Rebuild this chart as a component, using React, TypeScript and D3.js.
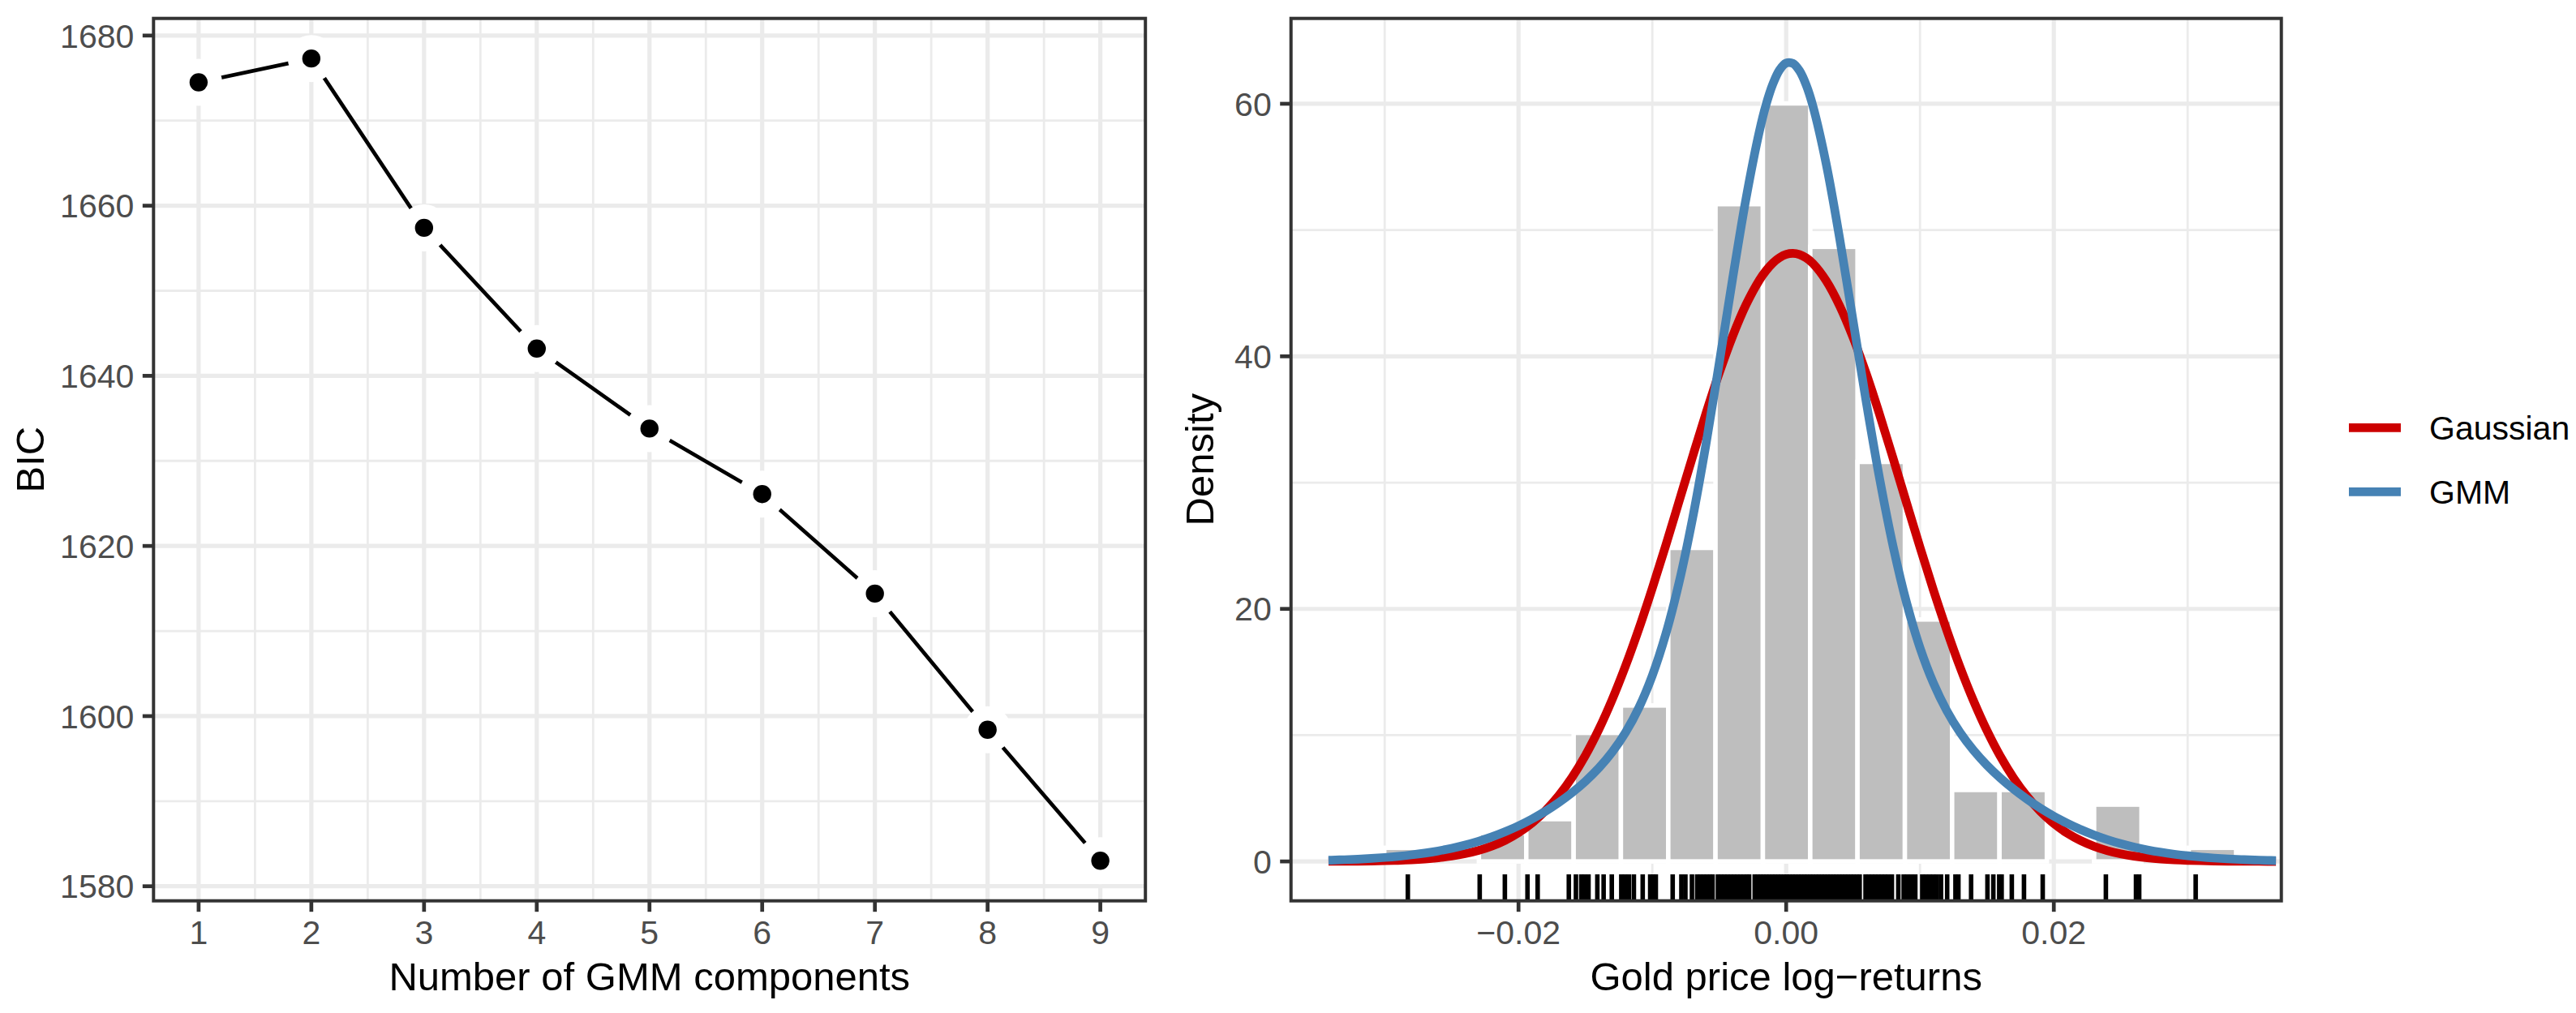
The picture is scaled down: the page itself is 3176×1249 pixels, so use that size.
import React from "react";
import * as d3 from "d3";

// ---------- Left panel data: BIC vs number of GMM components ----------
const components = [1, 2, 3, 4, 5, 6, 7, 8, 9];
const bicValues = [1674.5, 1677.3, 1657.4, 1643.2, 1633.8, 1626.1, 1614.4, 1598.4, 1583.0];
const bicYTicks = [1580, 1600, 1620, 1640, 1660, 1680];
const bicYMinor = [1590, 1610, 1630, 1650, 1670];
const bicXMinor = [1.5, 2.5, 3.5, 4.5, 5.5, 6.5, 7.5, 8.5];

// ---------- Right panel data: histogram of gold log-returns ----------
const binEdges = [
  -0.03003, -0.0265, -0.02296, -0.01942, -0.01588, -0.01235, -0.00881, -0.00528, -0.00174,
  0.0018, 0.00533, 0.00887, 0.0124, 0.01594, 0.01948, 0.02301, 0.02655, 0.03008, 0.03362,
];
const binDensity = [
  1.08, 0, 2.25, 3.35, 10.18, 12.35, 24.83, 52.05, 60.03, 48.67, 31.64, 19.16, 5.66, 5.66, 0,
  4.5, 0, 1.08,
];

const rugValues = [
  -0.02827, -0.0229, -0.02102, -0.01933, -0.01857, -0.01624, -0.01571, -0.01531, -0.01507,
  -0.01477, -0.01411, -0.01364, -0.01303, -0.01232, -0.01205, -0.01175, -0.01138, -0.01072,
  -0.01016, -0.00992, -0.00974, -0.00848, -0.00783, -0.00753, -0.00704, -0.00665, -0.00641,
  -0.00616, -0.00592, -0.00568, -0.0055, -0.0051, -0.00486, -0.00462, -0.00438, -0.00413,
  -0.00389, -0.00365, -0.00341, -0.00316, -0.00292, -0.00277, -0.00235, -0.00214, -0.0019,
  -0.0017, -0.00147, -0.00127, -0.00103, -0.00083, -0.0006, -0.0004, -0.00016, 0.00006,
  0.00026, 0.00049, 0.00069, 0.00093, 0.00113, 0.00137, 0.00156, 0.0018, 0.002, 0.00224,
  0.00243, 0.00267, 0.00287, 0.00311, 0.00331, 0.00354, 0.00374, 0.00398, 0.00418, 0.00441,
  0.00461, 0.00485, 0.00505, 0.00529, 0.00549, 0.00593, 0.00617, 0.00641, 0.00665, 0.0069,
  0.00714, 0.00738, 0.00762, 0.0079, 0.00838, 0.00878, 0.00905, 0.00935, 0.00965, 0.01017,
  0.01044, 0.01072, 0.01099, 0.01126, 0.01157, 0.01203, 0.01265, 0.01287, 0.01382, 0.01504,
  0.01548, 0.01592, 0.0161, 0.01686, 0.01777, 0.01917, 0.02389, 0.02614, 0.02638, 0.0306,
];

// density curves sampled along the x axis
const curveX = [
  -0.0342, -0.034, -0.033, -0.032, -0.031, -0.03, -0.029, -0.028, -0.027, -0.026, -0.025,
  -0.024, -0.023, -0.022, -0.021, -0.02, -0.019, -0.018, -0.017, -0.016, -0.015, -0.014,
  -0.013, -0.012, -0.011, -0.01, -0.009, -0.008, -0.007, -0.006, -0.005, -0.004, -0.003,
  -0.002, -0.0015, -0.001, -0.0005, 0, 0.0005, 0.001, 0.0015, 0.002, 0.003, 0.004, 0.005,
  0.006, 0.007, 0.008, 0.009, 0.01, 0.011, 0.012, 0.013, 0.014, 0.015, 0.016, 0.017, 0.018,
  0.019, 0.02, 0.021, 0.022, 0.023, 0.024, 0.025, 0.026, 0.027, 0.028, 0.029, 0.03, 0.031,
  0.032, 0.033, 0.034, 0.035, 0.036, 0.0366,
];
const gaussianY = [
  0.0075, 0.0083, 0.0137, 0.0221, 0.0353, 0.0555, 0.0858, 0.131, 0.197, 0.292, 0.426, 0.612,
  0.868, 1.213, 1.671, 2.268, 3.034, 4.0, 5.2, 6.66, 8.4, 10.45, 12.82, 15.49, 18.44, 21.64,
  25.02, 28.52, 32.03, 35.46, 38.69, 41.6, 44.09, 46.04, 46.79, 47.39, 47.81, 48.07, 48.15,
  48.06, 47.79, 47.35, 45.97, 43.99, 41.49, 38.57, 35.33, 31.89, 28.37, 24.88, 21.5, 18.32,
  15.37, 12.72, 10.37, 8.33, 6.6, 5.15, 3.96, 3.0, 2.24, 1.652, 1.199, 0.857, 0.603, 0.419,
  0.287, 0.194, 0.129, 0.0843, 0.0545, 0.0346, 0.0217, 0.0134, 0.0082, 0.0049, 0.0036,
];
const gmmY = [
  0.095, 0.101, 0.136, 0.18, 0.238, 0.311, 0.403, 0.518, 0.659, 0.832, 1.042, 1.294, 1.592,
  1.942, 2.35, 2.82, 3.358, 3.969, 4.662, 5.445, 6.345, 7.397, 8.659, 10.22, 12.19, 14.73,
  17.99, 22.1, 27.13, 32.99, 39.47, 46.16, 52.49, 57.82, 59.93, 61.55, 62.67, 63.22, 63.2,
  62.61, 61.47, 59.81, 55.19, 49.31, 42.81, 36.28, 30.22, 24.91, 20.48, 16.92, 14.13, 11.94,
  10.2, 8.798, 7.623, 6.612, 5.724, 4.931, 4.211, 3.584, 3.023, 2.529, 2.097, 1.726, 1.407,
  1.138, 0.912, 0.725, 0.571, 0.446, 0.345, 0.265, 0.202, 0.152, 0.114, 0.085, 0.07,
];

const densYTicks = [0, 20, 40, 60];
const densYMinor = [10, 30, 50];
const retXTicks = [-0.02, 0, 0.02];
const retXTickLabels = ["\u22120.02", "0.00", "0.02"];
const retXMinor = [-0.03, -0.01, 0.01, 0.03];

const legendLabels = ["Gaussian", "GMM"];
const legendColors = ["#CC0000", "#4682B4"];

// ---------- Layout ----------
const W = 3176;
const H = 1249;
const FONT = "'Liberation Sans', Arial, Helvetica, sans-serif";
const LP = { x0: 189.3, x1: 1412.2, y0: 22.7, y1: 1110.7 };
const RP = { x0: 1591.7, x1: 2812.7, y0: 22.7, y1: 1110.7 };
const TICK = 13.5;
const GAP = 10.5;
const TICK_FS = 41;
const TITLE_FS = 49;
const GRID = "#EBEBEB";
const MAJOR_W = 5.2;
const MINOR_W = 2.8;
const AXIS_COL = "#333333";
const TICK_TXT = "#4D4D4D";

function expand(values: number[], mult = 0.05): [number, number] {
  const [lo, hi] = d3.extent(values) as [number, number];
  const r = hi - lo;
  return [lo - r * mult, hi + r * mult];
}

export default function App() {
  // left scales
  const xL = d3.scaleLinear().domain([0.6, 9.4]).range([LP.x0, LP.x1]);
  const yL = d3.scaleLinear().domain(expand(bicValues)).range([LP.y1, LP.y0]);
  // right scales
  const xR = d3.scaleLinear().domain([-0.037, 0.037]).range([RP.x0, RP.x1]);
  const yR = d3.scaleLinear().domain([-3.12, 66.76]).range([RP.y1, RP.y0]);

  const bicLine = d3
    .line<number>()
    .x((d, i) => xL(components[i]))
    .y((d) => yL(d))(bicValues) as string;

  const densLine = (ys: number[]) =>
    d3
      .line<number>()
      .x((d, i) => xR(curveX[i]))
      .y((d) => yR(d))
      .curve(d3.curveCatmullRom.alpha(0.5))(ys) as string;

  const rugTop = RP.y1 - 0.03 * (RP.y1 - RP.y0);

  return (
    <svg
      width={W}
      height={H}
      viewBox={`0 0 ${W} ${H}`}
      style={{ position: "absolute", left: 0, top: 0, background: "#fff" }}
      fontFamily={FONT}
    >
      <rect x={0} y={0} width={W} height={H} fill="#fff" />

      {/* ================= LEFT PANEL ================= */}
      <g>
        {bicYMinor.map((v) => (
          <line key={"lym" + v} x1={LP.x0} x2={LP.x1} y1={yL(v)} y2={yL(v)} stroke={GRID} strokeWidth={MINOR_W} />
        ))}
        {bicXMinor.map((v) => (
          <line key={"lxm" + v} x1={xL(v)} x2={xL(v)} y1={LP.y0} y2={LP.y1} stroke={GRID} strokeWidth={MINOR_W} />
        ))}
        {bicYTicks.map((v) => (
          <line key={"lyM" + v} x1={LP.x0} x2={LP.x1} y1={yL(v)} y2={yL(v)} stroke={GRID} strokeWidth={MAJOR_W} />
        ))}
        {components.map((v) => (
          <line key={"lxM" + v} x1={xL(v)} x2={xL(v)} y1={LP.y0} y2={LP.y1} stroke={GRID} strokeWidth={MAJOR_W} />
        ))}

        <path d={bicLine} fill="none" stroke="#000" strokeWidth={4.7} strokeLinejoin="round" />
        {bicValues.map((v, i) => (
          <circle key={"halo" + i} cx={xL(components[i])} cy={yL(v)} r={29} fill="#fff" />
        ))}
        {bicValues.map((v, i) => (
          <circle key={"pt" + i} cx={xL(components[i])} cy={yL(v)} r={11.2} fill="#000" />
        ))}

        <rect x={LP.x0} y={LP.y0} width={LP.x1 - LP.x0} height={LP.y1 - LP.y0} fill="none" stroke={AXIS_COL} strokeWidth={4} />

        {/* y axis */}
        {bicYTicks.map((v) => (
          <g key={"lyt" + v}>
            <line x1={LP.x0 - TICK} x2={LP.x0} y1={yL(v)} y2={yL(v)} stroke={AXIS_COL} strokeWidth={4.7} />
            <text x={LP.x0 - TICK - GAP} y={yL(v) + TICK_FS * 0.358} textAnchor="end" fontSize={TICK_FS} fill={TICK_TXT}>
              {v}
            </text>
          </g>
        ))}
        {/* x axis */}
        {components.map((v) => (
          <g key={"lxt" + v}>
            <line x1={xL(v)} x2={xL(v)} y1={LP.y1} y2={LP.y1 + TICK} stroke={AXIS_COL} strokeWidth={4.7} />
            <text x={xL(v)} y={LP.y1 + TICK + GAP + TICK_FS * 0.716} textAnchor="middle" fontSize={TICK_FS} fill={TICK_TXT}>
              {v}
            </text>
          </g>
        ))}
        <text x={(LP.x0 + LP.x1) / 2} y={1220.5} textAnchor="middle" fontSize={TITLE_FS} fill="#000">
          Number of GMM components
        </text>
        <text transform={`translate(54,${(LP.y0 + LP.y1) / 2}) rotate(-90)`} textAnchor="middle" fontSize={TITLE_FS} fill="#000">
          BIC
        </text>
      </g>

      {/* ================= RIGHT PANEL ================= */}
      <g>
        {densYMinor.map((v) => (
          <line key={"rym" + v} x1={RP.x0} x2={RP.x1} y1={yR(v)} y2={yR(v)} stroke={GRID} strokeWidth={MINOR_W} />
        ))}
        {retXMinor.map((v) => (
          <line key={"rxm" + v} x1={xR(v)} x2={xR(v)} y1={RP.y0} y2={RP.y1} stroke={GRID} strokeWidth={MINOR_W} />
        ))}
        {densYTicks.map((v) => (
          <line key={"ryM" + v} x1={RP.x0} x2={RP.x1} y1={yR(v)} y2={yR(v)} stroke={GRID} strokeWidth={MAJOR_W} />
        ))}
        {retXTicks.map((v) => (
          <line key={"rxM" + v} x1={xR(v)} x2={xR(v)} y1={RP.y0} y2={RP.y1} stroke={GRID} strokeWidth={MAJOR_W} />
        ))}

        {/* histogram */}
        {binDensity.map((h, i) => (
          <rect
            key={"bin" + i}
            x={xR(binEdges[i])}
            y={yR(h)}
            width={xR(binEdges[i + 1]) - xR(binEdges[i])}
            height={yR(0) - yR(h)}
            fill="#BEBEBE"
            stroke="#fff"
            strokeWidth={5.5}
          />
        ))}

        {/* rug */}
        {rugValues.map((v, i) => (
          <line key={"rug" + i} x1={xR(v)} x2={xR(v)} y1={rugTop} y2={RP.y1} stroke="#000" strokeWidth={5.6} />
        ))}

        {/* density curves */}
        <path d={densLine(gaussianY)} fill="none" stroke={legendColors[0]} strokeWidth={10.7} strokeLinejoin="round" />
        <path d={densLine(gmmY)} fill="none" stroke={legendColors[1]} strokeWidth={10.7} strokeLinejoin="round" />

        <rect x={RP.x0} y={RP.y0} width={RP.x1 - RP.x0} height={RP.y1 - RP.y0} fill="none" stroke={AXIS_COL} strokeWidth={4} />

        {densYTicks.map((v) => (
          <g key={"ryt" + v}>
            <line x1={RP.x0 - TICK} x2={RP.x0} y1={yR(v)} y2={yR(v)} stroke={AXIS_COL} strokeWidth={4.7} />
            <text x={RP.x0 - TICK - GAP} y={yR(v) + TICK_FS * 0.358} textAnchor="end" fontSize={TICK_FS} fill={TICK_TXT}>
              {v}
            </text>
          </g>
        ))}
        {retXTicks.map((v, i) => (
          <g key={"rxt" + v}>
            <line x1={xR(v)} x2={xR(v)} y1={RP.y1} y2={RP.y1 + TICK} stroke={AXIS_COL} strokeWidth={4.7} />
            <text x={xR(v)} y={RP.y1 + TICK + GAP + TICK_FS * 0.716} textAnchor="middle" fontSize={TICK_FS} fill={TICK_TXT}>
              {retXTickLabels[i]}
            </text>
          </g>
        ))}
        <text x={(RP.x0 + RP.x1) / 2} y={1220.5} textAnchor="middle" fontSize={TITLE_FS} fill="#000">
          Gold price log{"\u2212"}returns
        </text>
        <text transform={`translate(1496,${(RP.y0 + RP.y1) / 2}) rotate(-90)`} textAnchor="middle" fontSize={TITLE_FS} fill="#000">
          Density
        </text>
      </g>

      {/* ================= LEGEND ================= */}
      <g>
        {legendLabels.map((lab, i) => {
          const cy = 527.3 + i * 79;
          return (
            <g key={"leg" + lab}>
              <line x1={2896} x2={2960} y1={cy} y2={cy} stroke={legendColors[i]} strokeWidth={10.7} />
              <text x={2995} y={cy + 14.8} fontSize={TICK_FS} fill="#000">
                {lab}
              </text>
            </g>
          );
        })}
      </g>
    </svg>
  );
}
